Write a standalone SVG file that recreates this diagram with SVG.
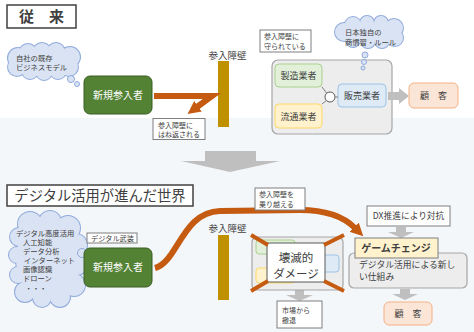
<svg xmlns="http://www.w3.org/2000/svg" width="474" height="332" viewBox="0 0 474 332">
<style>
text{font-family:"Noto Sans CJK JP","Noto Sans",sans-serif;fill:#404040}
.lbl{fill:#fff;stroke:#7F7F7F;stroke-width:1}
.lt{font-size:7px}
.ct{font-size:7.3px}
.gbox{fill:#548235;stroke:#3B5E25;stroke-width:1}
.wt{fill:#fff;font-size:10px}
.cont{fill:#EDEDED;stroke:#A6A6A6;stroke-width:1.2}
.bar{fill:#BF9000}
.oline{fill:none;stroke:#C55A11;stroke-width:6}
.xline{stroke:#C55A11;stroke-width:4}
.garrow{fill:#BFBFBF}
.cloudS{fill:#DAE3F3;stroke:#8FAADC;stroke-width:2}
.cloudF{fill:#DAE3F3;stroke:none}
.bub{fill:#DAE3F3;stroke:#8FAADC;stroke-width:1}
.bt{font-size:9px;text-anchor:middle}
.title{fill:#fff;stroke:#404040;stroke-width:1.5}
</style>
<defs>
<marker id="oa" viewBox="0 0 10 10" refX="1" refY="5" markerWidth="13" markerHeight="15" markerUnits="userSpaceOnUse" orient="auto"><path d="M0,0 L10,5 L0,10z" fill="#C55A11"/></marker>
<g id="cl1"><ellipse cx="43" cy="62" rx="30" ry="14"/><circle cx="18" cy="58" r="10"/><circle cx="28" cy="53" r="9"/><circle cx="42" cy="52" r="9"/><circle cx="56" cy="52" r="9"/><circle cx="70" cy="57" r="10"/><circle cx="69" cy="67" r="9"/><circle cx="58" cy="71" r="8"/><circle cx="44" cy="72" r="8"/><circle cx="30" cy="71" r="8"/><circle cx="17" cy="67" r="9"/></g>
<g id="cl2"><ellipse cx="369" cy="33" rx="28" ry="10"/><circle cx="344" cy="32" r="9"/><circle cx="353" cy="25" r="8"/><circle cx="367" cy="23" r="7"/><circle cx="381" cy="23" r="7"/><circle cx="394" cy="28" r="9"/><circle cx="395" cy="38" r="8"/><circle cx="382" cy="41" r="7"/><circle cx="368" cy="41" r="7"/><circle cx="353" cy="40" r="7"/></g>
<g id="cl3"><ellipse cx="48" cy="259" rx="32" ry="40"/><circle cx="30" cy="224" r="12"/><circle cx="50" cy="222" r="11"/><circle cx="68" cy="228" r="12"/><circle cx="76" cy="245" r="11"/><circle cx="77" cy="265" r="10"/><circle cx="74" cy="285" r="11"/><circle cx="60" cy="297" r="10"/><circle cx="42" cy="298" r="9"/><circle cx="25" cy="292" r="10"/><circle cx="18" cy="275" r="8"/><circle cx="17" cy="255" r="8"/><circle cx="19" cy="237" r="9"/></g>
</defs>
<rect x="0" y="0" width="474" height="332" fill="#fff"/>
<rect x="0" y="118" width="474" height="214" fill="#F4F7FA"/>

<g id="title-top"><rect class="title" x="7" y="5" width="69" height="23"/><text x="41.5" y="22" font-size="15" font-weight="bold" text-anchor="middle" fill="#262626">従　来</text></g>

<g id="cloud-top-left"><use href="#cl1" class="cloudS"/><use href="#cl1" class="cloudF"/><circle class="bub" cx="71" cy="79" r="3.5"/><circle class="bub" cx="77" cy="84" r="2.5"/><text class="ct" x="16" y="60.7">自社の既存</text><text class="ct" x="16" y="70">ビジネスモデル</text></g>

<g id="newcomer-top"><rect class="gbox" x="84" y="76" width="68" height="38" rx="6"/><text class="wt" x="118" y="98.5" text-anchor="middle">新規参入者</text></g>

<g id="barrier-top"><text x="227.5" y="58.5" font-size="9.5" text-anchor="middle">参入障壁</text><rect class="bar" x="218" y="61" width="11" height="66"/></g>

<g id="label-bounce"><rect class="lbl" x="153" y="118.5" width="52" height="21"/><text class="lt" x="158" y="127.5">参入障壁に</text><text class="lt" x="158" y="137.2">はね返される</text></g>

<g id="label-protected"><rect class="lbl" x="260" y="30" width="51" height="22"/><text class="lt" x="264" y="39">参入障壁に</text><text class="lt" x="264" y="48.7">守られている</text></g>

<g id="container-top"><rect class="cont" x="272" y="60" width="120" height="74" rx="6"/></g>

<g id="cloud-top-right"><use href="#cl2" class="cloudS"/><use href="#cl2" class="cloudF"/><circle class="bub" cx="365" cy="55" r="3"/><circle class="bub" cx="364" cy="62" r="2.5"/><circle class="bub" cx="363" cy="68" r="2"/><text class="ct" x="345" y="34.5">日本独自の</text><text class="ct" x="345" y="44.5">商慣習・ルール</text></g>

<g id="maker"><rect x="275" y="64" width="47" height="23" rx="4" fill="#E2F0D9" stroke="#A9D18E"/><text class="bt" x="298.5" y="79">製造業者</text></g>
<g id="distributor"><rect x="275" y="104" width="47" height="24" rx="4" fill="#FFF2CC" stroke="#FFD966"/><text class="bt" x="298.5" y="119.5">流通業者</text></g>
<g id="seller"><rect x="338" y="84" width="48" height="23" rx="4" fill="#DEEBF7" stroke="#9DC3E6"/><text class="bt" x="362" y="99">販売業者</text></g>
<g id="customer-top"><rect x="409" y="83" width="49" height="25" rx="5" fill="#FBE5D6" stroke="#F4B183"/><text class="bt" x="433.5" y="99">顧　客</text></g>

<g id="connectors">
<path class="oline" d="M154,96 H212 L197,107" marker-end="url(#oa)"/>
<line x1="322" y1="87" x2="326.5" y2="93" stroke="#7F7F7F"/>
<line x1="322" y1="104" x2="326.5" y2="100.5" stroke="#7F7F7F"/>
<line x1="335.5" y1="97" x2="338" y2="97" stroke="#7F7F7F"/>
<circle cx="330" cy="97" r="5" fill="#fff" stroke="#595959"/>
<polygon class="garrow" points="388,92 399,92 399,88 409,96 399,104 399,100 388,100"/>
<polygon class="garrow" points="205,151 256,151 256,161 280,161 230,172 181,161 205,161"/>
<path class="oline" d="M155,268 C178,262 182,212 220,211 L300,210 C330,210 346,219 355,228" marker-end="url(#oa)"/>
<polygon class="garrow" points="295,290 304,290 304,295 313,295 299.5,301 286,295 295,295"/>
<polygon class="garrow" points="396,227 406,227 406,232 414,232 401,238 388,232 396,232"/>
<polygon class="garrow" points="400,289 410,289 410,294 418,294 405,300 392,294 400,294"/>
</g>

<g id="title-bottom"><rect class="title" x="7" y="185" width="186" height="21"/><text x="100" y="200.5" font-size="14.3" text-anchor="middle" fill="#262626">デジタル活用が進んだ世界</text></g>

<g id="cloud-bottom"><use href="#cl3" class="cloudS"/><use href="#cl3" class="cloudF"/><circle class="bub" cx="82" cy="253" r="4.5"/><circle class="bub" cx="88" cy="254" r="3"/>
<text class="ct" x="16" y="235.7">デジタル高度活用</text>
<text class="ct" x="23" y="244.7">人工知能</text>
<text class="ct" x="23" y="253.7">データ分析</text>
<text class="ct" x="24" y="262.7">インターネット</text>
<text class="ct" x="23" y="271.7">画像認識</text>
<text class="ct" x="23" y="280.7">ドローン</text>
<text class="ct" x="25" y="290.5">・・・</text></g>

<g id="label-armed"><rect class="lbl" x="87" y="233" width="50" height="10"/><text x="91" y="240.8" font-size="7.2">デジタル武装</text></g>

<g id="newcomer-bottom"><rect class="gbox" x="84" y="248" width="68" height="39" rx="6"/><text class="wt" x="118" y="271" text-anchor="middle">新規参入者</text></g>

<g id="barrier-bottom"><text x="227.5" y="232" font-size="9.5" text-anchor="middle">参入障壁</text><rect class="bar" x="218" y="235" width="11" height="65"/></g>

<g id="label-overcome"><rect class="lbl" x="255" y="188" width="50" height="22"/><text class="lt" x="259" y="197">参入障壁を</text><text class="lt" x="259" y="206.7">乗り越える</text></g>

<g id="container-damaged">
<rect class="cont" x="252" y="237" width="91" height="53" rx="5"/>
<rect x="256" y="240" width="39" height="14" rx="3" fill="#E2F0D9" stroke="#A9D18E"/>
<rect x="256" y="268" width="39" height="15" rx="3" fill="#FFF2CC" stroke="#FFD966"/>
<rect x="313" y="255" width="26" height="17" rx="3" fill="#DEEBF7" stroke="#9DC3E6"/>
</g>
<g id="damage"><rect x="267" y="243" width="58" height="39" fill="#fff" stroke="#595959" stroke-width="1"/><text x="296" y="261.5" font-size="11.5" text-anchor="middle">壊滅的</text><text x="296" y="277.5" font-size="11.5" text-anchor="middle">ダメージ</text>
<line class="xline" x1="251" y1="235" x2="268" y2="245"/>
<line class="xline" x1="344" y1="235" x2="324" y2="245"/>
<line class="xline" x1="251" y1="291" x2="268" y2="281"/>
<line class="xline" x1="344" y1="291" x2="324" y2="281"/></g>

<g id="label-exit"><rect class="lbl" x="277" y="301" width="45" height="27"/><text class="lt" x="282" y="312.5">市場から</text><text class="lt" x="282" y="322.5">撤退</text></g>

<g id="dx"><rect class="lbl" x="367" y="206" width="83" height="20"/><text x="408.5" y="219.3" font-size="8.7" text-anchor="middle">DX推進により対抗</text></g>

<g id="container-new"><rect class="cont" x="349" y="253" width="118" height="35" rx="5"/><text x="359" y="268" font-size="8.8" fill="#E02B2B">デジタル活用による新し</text><text x="359" y="280" font-size="8.8" fill="#E02B2B">い仕組み</text></g>
<g id="gamechange"><rect x="355" y="238" width="83" height="20" fill="#FFF2CC" stroke="#7F7F7F"/><text x="396" y="252" font-size="10" font-weight="bold" text-anchor="middle" fill="#E02B2B">ゲームチェンジ</text></g>

<g id="customer-bottom"><rect x="384" y="302" width="48" height="23" rx="5" fill="#FBE5D6" stroke="#F4B183"/><text class="bt" x="408" y="317">顧　客</text></g>
</svg>
